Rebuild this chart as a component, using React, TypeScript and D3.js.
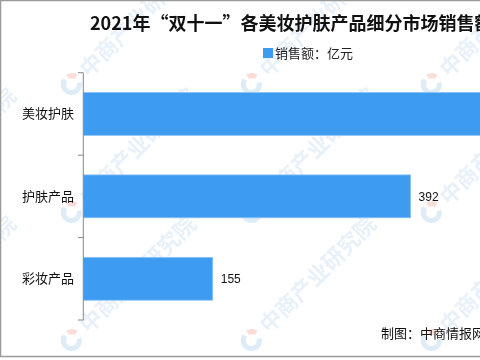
import React from "react";
import * as d3 from "d3";

const categories = ["美妆护肤", "护肤产品", "彩妆产品"];
const sales = [547, 392, 155];
const title = "2021年“双十一”各美妆护肤产品细分市场销售额";
const legendLabel = "销售额：亿元";
const sourceText = "制图：中商情报网";

const W = 480;
const H = 360;

export default function App() {
  const x = d3.scaleLinear().domain([0, 600]).range([83.3, 83.3 + 600 * 0.835]);
  const y = d3.scaleBand().domain(categories).range([72.7, 320]).paddingInner(0.48).paddingOuter(0.24);
  const band = d3.scaleBand().domain(categories).range([72.7, 320]);
  const ticks = [72.7, ...categories.map((c) => (band(c) as number) + band.bandwidth())];
  const font = "'Noto Sans CJK SC', 'Noto Sans', sans-serif";

  const wm: { x: number; y: number }[] = [];
  for (let r = -1; r < 3; r++) {
    for (let c = -1; c < 3; c++) {
      wm.push({ x: 72 + c * 180, y: 84 + r * 128 });
    }
  }

  return (
    <svg
      width={W}
      height={H}
      style={{ position: "absolute", left: 0, top: 0, background: "#fff" }}
      fontFamily={font}
    >
      <rect x={0} y={0} width={W} height={H} fill="#fff" />
      {/* watermark */}
      <g opacity={0.6}>
        {wm.map((p, i) => (
          <g key={i} transform={`translate(${p.x},${p.y}) rotate(-45)`}>
            <path d="M -2 -8 A 8 8 0 1 0 6 4" fill="none" stroke="#c7dff2" strokeWidth={5} />
            <path d="M 2 -8 A 8 8 0 0 1 8 -2" fill="none" stroke="#f5c6bd" strokeWidth={5} />
            <text x={16} y={8} fontSize={22} fill="#d9e8f5" fontWeight={700}>
              中商产业研究院
            </text>
          </g>
        ))}
      </g>
      {/* border */}
      <rect x={0.5} y={0.5} width={W + 10} height={356} fill="none" stroke="#9a9a9a" strokeWidth={1.5} />
      {/* title */}
      <text x={90} y={30} fontSize={18} fontWeight={700} fill="#111">
        {title}
      </text>
      {/* legend */}
      <rect x={263} y={48} width={10} height={10} fill="#3d9bf0" />
      <text x={275} y={57.5} fontSize={13} fill="#222">
        {legendLabel}
      </text>
      {/* bars */}
      {categories.map((c, i) => (
        <g key={c}>
          <rect
            x={x(0)}
            y={y(c) as number}
            width={x(sales[i]) - x(0)}
            height={y.bandwidth()}
            fill="#3d9bf0"
            stroke="#8cc4f5"
            strokeWidth={0.8}
          />
          <text
            x={x(sales[i]) + 8}
            y={(y(c) as number) + y.bandwidth() / 2}
            dy="0.35em"
            fontSize={12}
            fontFamily="'Liberation Sans', Arial, sans-serif"
            fill="#111"
          >
            {sales[i]}
          </text>
          <text
            x={74}
            y={(band(c) as number) + band.bandwidth() / 2}
            dy="0.35em"
            textAnchor="end"
            fontSize={13}
            fill="#111"
          >
            {c}
          </text>
        </g>
      ))}
      {/* axis */}
      <line x1={83.3} x2={83.3} y1={72.7} y2={320} stroke="#888" strokeWidth={1} />
      {ticks.map((t, i) => (
        <line key={i} x1={78} x2={83.3} y1={t} y2={t} stroke="#888" strokeWidth={1} />
      ))}
      {/* source */}
      <text x={381} y={337.5} fontSize={13} fill="#111">
        {sourceText}
      </text>
    </svg>
  );
}
